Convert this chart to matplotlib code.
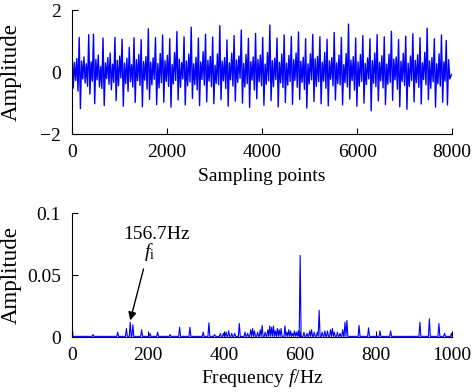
import numpy as np
import matplotlib
matplotlib.use('Agg')
import matplotlib.pyplot as plt

plt.rcParams['font.family'] = 'Liberation Serif'
plt.rcParams['font.size'] = 14
plt.rcParams['mathtext.fontset'] = 'custom'
plt.rcParams['mathtext.rm'] = 'Liberation Serif'
plt.rcParams['mathtext.it'] = 'Liberation Serif:italic'

# ------------------------------------------------------------------
# time signal (one value every 25 samples)
# ------------------------------------------------------------------
signal = [
    0.68, -0.52, 0.31, -0.27, 0.44, -0.61, 1.12, -1.18, 0.36, -0.22, 0.49, -0.35, 0.27, -0.46, 1.21, -0.71,
    0.33, -0.29, 1.23, -1.02, 0.41, -0.25, 0.55, -0.48, 0.18, -0.53, 1.10, -1.08, 0.30, -0.21, 0.47, -0.39,
    0.62, -0.57, 0.26, -0.33, 1.12, -0.92, 0.38, -0.44, 0.52, -0.19, 1.06, -1.10, 0.29, -0.37, 0.45, -0.62,
    0.80, -0.31, 0.24, -0.48, 1.11, -0.98, 0.40, -0.28, 0.57, -0.43, 1.05, -1.12, 0.34, -0.26, 0.50, -0.55,
    1.40, -0.88, 0.32, -0.41, 0.46, -0.23, 1.12, -1.05, 0.28, -0.51, 0.60, -0.34, 1.20, -0.97, 0.37, -0.30,
    0.54, -0.46, 1.08, -1.13, 0.25, -0.38, 0.63, -0.27, 1.31, -0.90, 0.42, -0.49, 0.31, -0.22, 1.14, -1.06,
    0.36, -0.44, 0.58, -0.32, 1.45, -0.85, 0.27, -0.40, 0.48, -0.57, 1.10, -1.08, 0.33, -0.24, 0.66, -0.42,
    1.22, -0.96, 0.38, -0.29, 0.51, -0.47, 1.13, -1.02, 0.22, -0.36, 0.59, -0.41, 1.50, -0.89, 0.35, -0.28,
    0.47, -0.53, 1.04, -1.10, 0.30, -0.25, 0.61, -0.45, 1.18, -0.94, 0.39, -0.33, 0.52, -0.20, 1.36, -1.00,
    0.28, -0.48, 0.57, -0.37, 1.09, -1.14, 0.34, -0.26, 0.49, -0.58, 1.25, -0.86, 0.41, -0.31, 0.55, -0.44,
    1.12, -1.07, 0.26, -0.39, 0.63, -0.28, 1.52, -0.92, 0.37, -0.47, 0.45, -0.24, 1.10, -1.12, 0.32, -0.35,
    0.58, -0.50, 1.20, -0.98, 0.29, -0.42, 0.54, -0.30, 1.15, -1.04, 0.40, -0.27, 0.62, -0.49, 1.30, -0.88,
    0.35, -0.33, 0.48, -0.56, 1.08, -1.16, 0.27, -0.38, 0.59, -0.25, 1.22, -0.95, 0.43, -0.46, 0.51, -0.31,
    1.14, -1.02, 0.32, -0.29, 0.64, -0.52, 1.06, -1.09, 0.36, -0.23, 0.47, -0.44, 1.28, -0.90, 0.30, -0.37,
    0.55, -0.41, 1.12, -1.06, 0.24, -0.34, 0.60, -0.48, 1.55, -0.87, 0.39, -0.27, 0.50, -0.58, 1.10, -1.10,
    0.33, -0.45, 0.57, -0.30, 1.18, -1.00, 0.28, -0.40, 0.46, -0.22, 1.08, -1.25, 0.37, -0.36, 0.62, -0.47,
    1.21, -0.93, 0.31, -0.28, 0.53, -0.51, 1.14, -1.05, 0.26, -0.39, 0.58, -0.33, 1.32, -0.91, 0.42, -0.25,
    0.49, -0.55, 1.05, -1.12, 0.35, -0.30, 0.61, -0.43, 1.16, -1.20, 0.29, -0.46, 0.52, -0.27, 1.24, -0.96,
    0.38, -0.34, 0.56, -0.49, 1.11, -1.03, 0.30, -0.24, 0.64, -0.41, 1.42, -0.89, 0.36, -0.52, 0.47, -0.31,
    1.08, -1.13, 0.27, -0.38, 0.59, -0.45, 1.20, -0.97, 0.33, -0.29, 1.02, -1.06, 0.40, -0.22, -0.12, -0.05,
]
n_samples = 8000

# ------------------------------------------------------------------
# spectrum peaks (Hz, amplitude)
# ------------------------------------------------------------------
peak_freqs = [0, 55, 120, 143, 153, 160, 183, 205, 225, 258, 283, 310, 345, 360,
              375, 390, 398, 405, 412, 420, 428, 440, 455, 462, 470, 475, 480, 488,
              495, 500, 508, 515, 520, 525, 530, 535, 540, 545, 550, 560, 565, 570,
              575, 580, 585, 590, 595, 600, 610, 618, 625, 630, 637, 645, 650, 658,
              665, 672, 680, 685, 690, 698, 705, 712, 718, 723, 755, 780, 810, 838,
              915, 940, 965, 980, 998]
peak_amps = [0.0095, 0.002, 0.004, 0.007, 0.012, 0.010, 0.006, 0.003, 0.004, 0.002,
             0.008, 0.008, 0.004, 0.0115,
             0.002, 0.003, 0.003, 0.004, 0.005, 0.003, 0.003, 0.011, 0.004, 0.003,
             0.006, 0.007, 0.005, 0.004,
             0.006, 0.0095, 0.004, 0.006, 0.009, 0.008, 0.009, 0.005, 0.007, 0.006,
             0.007, 0.009, 0.004, 0.006,
             0.005, 0.003, 0.005, 0.004, 0.005, 0.066, 0.004, 0.003, 0.005, 0.006,
             0.004, 0.004, 0.0216, 0.004,
             0.005, 0.005, 0.006, 0.007, 0.004, 0.004, 0.003, 0.006, 0.012, 0.0135,
             0.0095, 0.0075, 0.005, 0.005,
             0.012, 0.0148, 0.011, 0.003, 0.003]
base_level = 0.0006

# build the spectrum line: narrow triangle per peak on a flat floor
spec_f, spec_a = [], []
for f, a in zip(peak_freqs, peak_amps):
    spec_f += [max(f - 2.5, 0), f, f + 2.5]
    spec_a += [base_level, a, base_level]
spec_f = [0] + spec_f + [1000]
spec_a = [base_level] + spec_a + [base_level]

BLUE = '#0000ff'

fig = plt.figure(figsize=(4.74, 3.92), dpi=100)

# ---- top: time signal ----
ax1 = fig.add_axes([0.152, 0.658, 0.802, 0.316])
t = np.linspace(0, n_samples, len(signal))
ax1.plot(t, signal, color=BLUE, lw=1.0)
ax1.set_xlim(0, 8000)
ax1.set_ylim(-2, 2)
ax1.set_xticks([0, 2000, 4000, 6000, 8000])
ax1.set_yticks([-2, 0, 2])
ax1.set_xlabel('Sampling points', va='top')
ax1.xaxis.set_label_coords(0.5, -0.27)
ax1.set_ylabel('Amplitude', fontsize=16.5, va='center')
ax1.yaxis.set_label_coords(-0.16, 0.5)

# ---- bottom: spectrum ----
ax2 = fig.add_axes([0.152, 0.140, 0.802, 0.316])
ax2.plot(spec_f, spec_a, color=BLUE, lw=0.8)
ax2.set_xlim(0, 1000)
ax2.set_ylim(0, 0.1)
ax2.set_xticks([0, 200, 400, 600, 800, 1000])
ax2.set_yticks([0, 0.05, 0.1])
ax2.set_yticklabels(['0', '0.05', '0.1'])
ax2.set_xlabel('Frequency $f$/Hz', va='top')
ax2.xaxis.set_label_coords(0.5, -0.245)
ax2.set_ylabel('Amplitude', fontsize=16.5, va='center')
ax2.yaxis.set_label_coords(-0.16, 0.5)

ax2.annotate('', xy=(153, 0.0135), xytext=(188, 0.055),
             arrowprops=dict(arrowstyle='-|>', color='black', lw=1.0,
                             mutation_scale=12, shrinkA=0, shrinkB=0))
ax2.text(221, 0.0827, '156.7Hz', ha='center', va='center')
ax2.text(205, 0.0685, r'$f_\mathrm{i}$', ha='center', va='center')

for ax in (ax1, ax2):
    ax.spines['top'].set_visible(False)
    ax.spines['right'].set_visible(False)
    ax.tick_params(direction='in', length=4, width=0.8)
    ax.tick_params(axis='x', pad=7)
    ax.tick_params(axis='y', pad=8)

fig.savefig('out.png', dpi=100)
